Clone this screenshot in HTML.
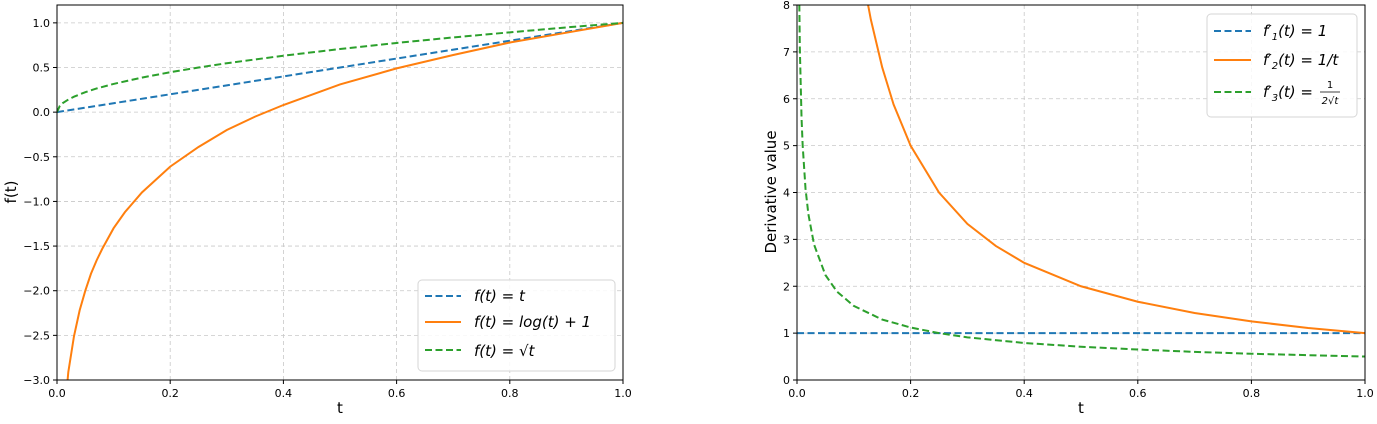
<!DOCTYPE html>
<html><head><meta charset="utf-8"><style>
body{margin:0;background:#fff}
svg{font-family:"DejaVu Sans","Liberation Sans",sans-serif}
</style></head><body>
<svg id="c" width="1377" height="419" xmlns="http://www.w3.org/2000/svg">
<defs>
<clipPath id="clipL"><rect x="57" y="5" width="566" height="375"/></clipPath>
<clipPath id="clipR"><rect x="797" y="5" width="568" height="375"/></clipPath>
</defs>
</svg>
<script>
const tLin=[0,1];
const fLin=[0,1];
const tLog=[0.01,0.02,0.03,0.04,0.05,0.06,0.07,0.08,0.1,0.12,0.15,0.2,0.25,0.3,0.35,0.4,0.5,0.6,0.7,0.8,0.9,1.0];
const fLog=[-3.61,-2.91,-2.51,-2.22,-2.0,-1.81,-1.66,-1.53,-1.30,-1.12,-0.90,-0.61,-0.39,-0.20,-0.05,0.08,0.31,0.49,0.64,0.78,0.89,1.0];
const tSqrt=[0,0.005,0.01,0.02,0.03,0.05,0.07,0.1,0.15,0.2,0.25,0.3,0.4,0.5,0.6,0.7,0.8,0.9,1.0];
const fSqrt=[0,0.071,0.1,0.141,0.173,0.224,0.265,0.316,0.387,0.447,0.5,0.548,0.632,0.707,0.775,0.837,0.894,0.949,1.0];
const dLin=[1,1];
const tInv=[0.1,0.11,0.12,0.13,0.15,0.17,0.2,0.25,0.3,0.35,0.4,0.5,0.6,0.7,0.8,0.9,1.0];
const dInv=[10,9.09,8.33,7.69,6.67,5.88,5.0,4.0,3.33,2.86,2.5,2.0,1.67,1.43,1.25,1.11,1.0];
const tHalf=[0.003,0.005,0.008,0.01,0.015,0.02,0.03,0.05,0.07,0.1,0.15,0.2,0.25,0.3,0.4,0.5,0.6,0.7,0.8,0.9,1.0];
const dHalf=[9.13,7.07,5.59,5.0,4.08,3.54,2.89,2.24,1.89,1.58,1.29,1.12,1.0,0.91,0.79,0.71,0.65,0.60,0.56,0.53,0.5];
const xTicks=[0,0.2,0.4,0.6,0.8,1.0];
const xTickLabels=["0.0","0.2","0.4","0.6","0.8","1.0"];
const yTicksL=[-3,-2.5,-2,-1.5,-1,-0.5,0,0.5,1];
const yTickLabelsL=["−3.0","−2.5","−2.0","−1.5","−1.0","−0.5","0.0","0.5","1.0"];
const yTicksR=[0,1,2,3,4,5,6,7,8];
const yTickLabelsR=["0","1","2","3","4","5","6","7","8"];

const svg=document.getElementById('c');
const NS="http://www.w3.org/2000/svg";
function mk(tag,attrs,parent){const e=document.createElementNS(NS,tag);for(const k in attrs)e.setAttribute(k,attrs[k]);(parent||svg).appendChild(e);return e;}
const L={x0:57,x1:623,y0:380,y1:5,ymin:-3,ymax:1.2};
const R={x0:797,x1:1365,y0:380,y1:5,ymin:0,ymax:8};
function sx(p,v){return p.x0+(p.x1-p.x0)*v;}
function sy(p,v){return p.y0-(p.y0-p.y1)*(v-p.ymin)/(p.ymax-p.ymin);}

function axes(p,yt,ytl,name){
  const g=mk('g',{});
  
  
  xTicks.forEach((v,i)=>{
    const x=sx(p,v);
    const gl=mk('line',{x1:x,x2:x,y1:p.y1,y2:p.y0,stroke:'#c8c8c8','stroke-width':0.8,'stroke-dasharray':'4,3'},g);
    
    
    mk('line',{x1:x,x2:x,y1:p.y0,y2:p.y0+4,stroke:'#000','stroke-width':1},g);
    const t=mk('text',{x:x,y:p.y0+17,'text-anchor':'middle','font-size':11,fill:'#000'},g);
    t.textContent=xTickLabels[i];
    
    
  });
  yt.forEach((v,i)=>{
    const y=sy(p,v);
    const gl=mk('line',{x1:p.x0,x2:p.x1,y1:y,y2:y,stroke:'#c8c8c8','stroke-width':0.8,'stroke-dasharray':'4,3'},g);
    
    
    mk('line',{x1:p.x0-4,x2:p.x0,y1:y,y2:y,stroke:'#000','stroke-width':1},g);
    const t=mk('text',{x:p.x0-7,y:y+4,'text-anchor':'end','font-size':11,fill:'#000'},g);
    t.textContent=ytl[i];
    
    
  });
  return g;
}
function line(p,xs,ys,color,dash,clip,name){
  const pts=xs.map((x,i)=>sx(p,x).toFixed(2)+','+sy(p,ys[i]).toFixed(2)).join(' ');
  const e=mk('polyline',{points:pts,fill:'none',stroke:color,'stroke-width':2,'clip-path':'url(#'+clip+')'});
  if(dash)e.setAttribute('stroke-dasharray','7,3.5');
  
  
}
function frame(p){mk('rect',{x:p.x0,y:p.y1,width:p.x1-p.x0,height:p.y0-p.y1,fill:'none',stroke:'#000','stroke-width':1});}

axes(L,yTicksL,yTickLabelsL,'left');
axes(R,yTicksR,yTickLabelsR,'right');
line(L,tLin,fLin,'#1f77b4',true,'clipL','series-linear');
line(L,tLog,fLog,'#ff7f0e',false,'clipL','series-log');
line(L,tSqrt,fSqrt,'#2ca02c',true,'clipL','series-sqrt');
line(R,tLin,dLin,'#1f77b4',true,'clipR','series-deriv-linear');
line(R,tInv,dInv,'#ff7f0e',false,'clipR','series-deriv-inverse');
line(R,tHalf,dHalf,'#2ca02c',true,'clipR','series-deriv-sqrt');
frame(L);frame(R);
</script>
<svg width="1377" height="419" style="position:absolute;left:0;top:0" xmlns="http://www.w3.org/2000/svg">
<text x="340" y="413" text-anchor="middle" font-size="15">t</text>
<text x="1081" y="413" text-anchor="middle" font-size="15">t</text>
<text transform="translate(16,192) rotate(-90)" text-anchor="middle" font-size="15">f(t)</text>
<text transform="translate(776,192) rotate(-90)" text-anchor="middle" font-size="15">Derivative value</text>
<g font-size="15" font-style="italic">
<rect x="418" y="280" width="197" height="91" rx="4" fill="#fff" fill-opacity="0.85" stroke="#d6d6d6"/>
<line x1="425" x2="461" y1="296" y2="296" stroke="#1f77b4" stroke-width="2" stroke-dasharray="7,3.5"/>
<text x="474" y="301">f(t) = t</text>
<line x1="425" x2="461" y1="322" y2="322" stroke="#ff7f0e" stroke-width="2"/>
<text x="474" y="327">f(t) = log(t) + 1</text>
<line x1="425" x2="461" y1="350" y2="350" stroke="#2ca02c" stroke-width="2" stroke-dasharray="7,3.5"/>
<text x="474" y="356">f(t) = √t</text>
</g>
<g font-size="15" font-style="italic">
<rect x="1207" y="14" width="150" height="103" rx="4" fill="#fff" fill-opacity="0.85" stroke="#d6d6d6"/>
<line x1="1214" x2="1251" y1="31" y2="31" stroke="#1f77b4" stroke-width="2" stroke-dasharray="7,3.5"/>
<text x="1263" y="36">f′<tspan font-size="10" dy="4">1</tspan><tspan dy="-4">(t) = 1</tspan></text>
<line x1="1214" x2="1251" y1="60" y2="60" stroke="#ff7f0e" stroke-width="2"/>
<text x="1263" y="65">f′<tspan font-size="10" dy="4">2</tspan><tspan dy="-4">(t) = 1/t</tspan></text>
<line x1="1214" x2="1251" y1="92" y2="92" stroke="#2ca02c" stroke-width="2" stroke-dasharray="7,3.5"/>
<text x="1263" y="97">f′<tspan font-size="10" dy="4">3</tspan><tspan dy="-4">(t) = </tspan></text>
<text x="1330" y="88" font-size="10" text-anchor="middle" font-style="normal">1</text>
<line x1="1320" x2="1340" y1="92" y2="92" stroke="#000" stroke-width="0.7"/>
<text x="1330" y="104" font-size="10" text-anchor="middle">2√t</text>
</g>
</svg>
</body></html>
